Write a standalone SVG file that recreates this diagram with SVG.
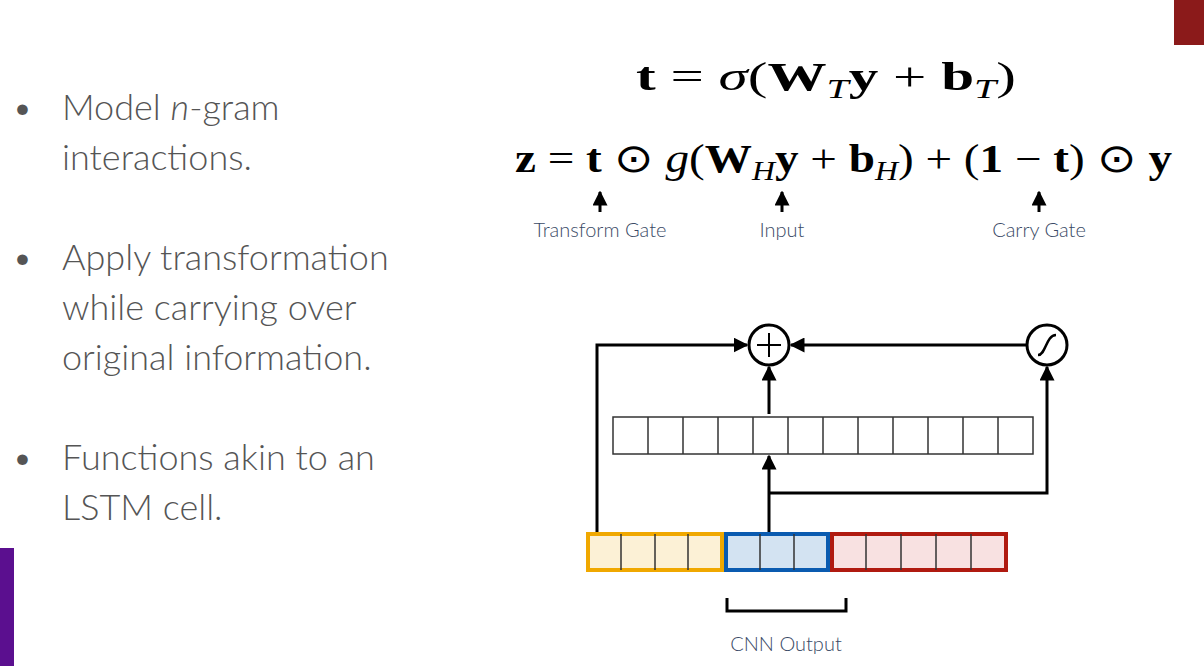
<svg xmlns="http://www.w3.org/2000/svg" width="1204" height="666" viewBox="0 0 1204 666">
<defs>
<marker id="ah" viewBox="0 0 10 10" refX="9" refY="5" markerWidth="5" markerHeight="5" orient="auto"><path d="M0,0 L10,5 L0,10 z" fill="#000"/></marker>
<style>
.b{font-family:Lato,"Open Sans",sans-serif;font-weight:300;font-size:36px;fill:#555}
.m{font-family:"Liberation Serif",serif;font-size:40px;fill:#000}
.mb{font-weight:bold}
.lab{font-family:Lato,"Open Sans",sans-serif;font-weight:300;font-size:20px;fill:#3a4a66}
.ln{stroke:#000;stroke-width:3;fill:none}
.cell{stroke:#333;stroke-width:1.5}
</style>
</defs>
<rect width="1204" height="666" fill="#fff"/>
<rect x="1174" y="0" width="30" height="45" fill="#8b1a1a"/>
<rect x="0" y="548" width="14" height="118" fill="#5b0f8f"/>
<g id="bullets">
<text class="b" x="12" y="120">•</text>
<text class="b" x="62" y="120">Model <tspan font-style="italic">n</tspan>-gram</text>
<text class="b" x="62" y="170">interactions.</text>
<text class="b" x="12" y="270">•</text>
<text class="b" x="62" y="270">Apply transformation</text>
<text class="b" x="62" y="320">while carrying over</text>
<text class="b" x="62" y="370">original information.</text>
<text class="b" x="12" y="470">•</text>
<text class="b" x="62" y="470">Functions akin to an</text>
<text class="b" x="62" y="520">LSTM cell.</text>
</g>
<g id="equations">
<text class="m" x="636" y="90" textLength="380" lengthAdjust="spacingAndGlyphs"><tspan class="mb">t</tspan> = <tspan font-style="italic">σ</tspan>(<tspan class="mb">W</tspan><tspan font-style="italic" font-size="27" dy="8">T</tspan><tspan class="mb" dy="-8">y</tspan> + <tspan class="mb">b</tspan><tspan font-style="italic" font-size="27" dy="8">T</tspan><tspan dy="-8">)</tspan></text>
<text class="m" x="515" y="172" textLength="657" lengthAdjust="spacingAndGlyphs"><tspan class="mb">z</tspan> = <tspan class="mb">t</tspan> ⊙ <tspan font-style="italic">g</tspan>(<tspan class="mb">W</tspan><tspan font-style="italic" font-size="27" dy="8">H</tspan><tspan class="mb" dy="-8">y</tspan> + <tspan class="mb">b</tspan><tspan font-style="italic" font-size="27" dy="8">H</tspan><tspan dy="-8">) + (</tspan><tspan class="mb">1</tspan> − <tspan class="mb">t</tspan>) ⊙ <tspan class="mb">y</tspan></text>
</g>
<g id="eq-labels">
<text class="lab" x="600" y="237" text-anchor="middle">Transform Gate</text>
<text class="lab" x="782" y="237" text-anchor="middle">Input</text>
<text class="lab" x="1039" y="237" text-anchor="middle">Carry Gate</text>
</g>
<g id="cnn-row">
<rect x="588" y="534" width="134" height="36" fill="#fcf1d6" stroke="#f0a800" stroke-width="4"/>
<rect x="726" y="534" width="102" height="36" fill="#d3e3f2" stroke="#0a5bb0" stroke-width="4"/>
<rect x="832" y="534" width="174" height="36" fill="#f8e1e1" stroke="#b01a10" stroke-width="4"/>
<path class="cell" d="M621,534V570M655,534V570M688,534V570M760,534V570M794,534V570M866,534V570M901,534V570M936,534V570M971,534V570"/>
</g>
<g id="hidden-row">
<rect x="613" y="417" width="420" height="37" fill="#fff" stroke="#333" stroke-width="1.5"/>
<path class="cell" d="M648,417V454M683,417V454M718,417V454M753,417V454M788,417V454M823,417V454M858,417V454M893,417V454M928,417V454M963,417V454M998,417V454"/>
</g>
<g id="plus">
<circle cx="769" cy="345" r="20" fill="#fff" stroke="#000" stroke-width="3"/>
<path d="M757,345H781M769,333V357" stroke="#000" stroke-width="2"/>
</g>
<g id="sigmoid">
<circle cx="1047" cy="345" r="20" fill="#fff" stroke="#000" stroke-width="3"/>
<path d="M1038,355 C1046,355 1046,335 1056,335" stroke="#000" stroke-width="2.5" fill="none"/>
</g>
<g id="connectors">
<path class="ln" d="M597,532V345H747" marker-end="url(#ah)"/>
<path class="ln" d="M1027,345H791" marker-end="url(#ah)"/>
<path class="ln" d="M769,414V367" marker-end="url(#ah)"/>
<path class="ln" d="M769,532V456" marker-end="url(#ah)"/>
<path class="ln" d="M769,493H1047V367" marker-end="url(#ah)"/>
<path class="ln" d="M600,212V192" stroke-width="2.5" marker-end="url(#ah)"/>
<path class="ln" d="M782,212V192" stroke-width="2.5" marker-end="url(#ah)"/>
<path class="ln" d="M1039,212V192" stroke-width="2.5" marker-end="url(#ah)"/>
<path class="ln" d="M727,598V611H846V598"/>
</g>
<text class="lab" x="786" y="651" text-anchor="middle" fill="#333">CNN Output</text>
</svg>
